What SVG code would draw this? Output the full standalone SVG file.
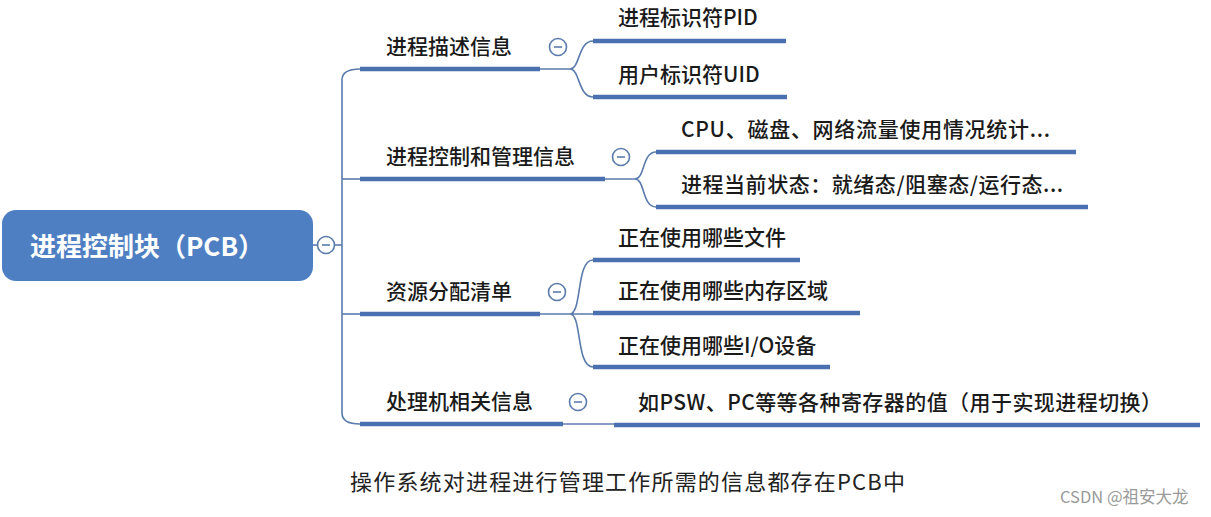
<svg xmlns="http://www.w3.org/2000/svg" width="1211" height="517" viewBox="0 0 1211 517">
<style>
.t{font-family:"Noto Sans CJK SC","Noto Sans",sans-serif;font-size:21px;fill:#1a1a1a;font-weight:500}
.bar{stroke:#4a70b0;stroke-width:4.5;fill:none}
.ln{stroke:#5b7bac;stroke-width:1.6;fill:none}
.col{fill:#fff;stroke:#5b7bac;stroke-width:1.6}
.mi{stroke:#5b7bac;stroke-width:1.6}
</style>
<rect width="1211" height="517" fill="#fff"/>
<g id="connectors">
<path class="ln" d="M313 245 H342"/>
<path class="ln" d="M360 69 Q342 69 342 80 V413 Q342 424 360 424"/>
<path class="ln" d="M342 179 Q342 179 360 179"/>
<path class="ln" d="M342 314 Q342 314 360 314"/>
<path class="ln" d="M540 69 H570 C580 69 578 41 593 41 M570 69 C580 69 578 97 593 97"/>
<path class="ln" d="M605 179 H635 C645 179 642 152 656 152 M635 179 C645 179 642 207 656 207"/>
<path class="ln" d="M540 314 H570 C582 314 576 260 593 260 M570 314 H593 M570 314 C582 314 576 367 593 367"/>
<path class="ln" d="M563 424 H614"/>
</g>
<g id="root">
<rect x="2" y="210" width="311" height="71" rx="14" fill="#4f7fc3"/>
<text x="30" y="256" font-family="Noto Sans CJK SC,sans-serif" font-size="26" font-weight="bold" fill="#fff">进程控制块（PCB）</text>
<circle class="col" cx="326" cy="245" r="8.5"/><path class="mi" d="M322 245 H330"/>
</g>
<g id="n1">
<path class="bar" d="M360 69 H540"/>
<text class="t" x="386" y="54">进程描述信息</text>
<circle class="col" cx="558" cy="47" r="8.5"/><path class="mi" d="M554 47 H562"/>
</g>
<g id="n1a"><path class="bar" d="M593 41 H786"/><text class="t" x="618" y="25">进程标识符PID</text></g>
<g id="n1b"><path class="bar" d="M593 97 H787"/><text class="t" x="618" y="82">用户标识符UID</text></g>
<g id="n2">
<path class="bar" d="M360 179 H605"/>
<text class="t" x="386" y="164">进程控制和管理信息</text>
<circle class="col" cx="621" cy="157" r="8.5"/><path class="mi" d="M617 157 H625"/>
</g>
<g id="n2a"><path class="bar" d="M656 152 H1076"/><text class="t" x="681" y="137" textLength="369">CPU、磁盘、网络流量使用情况统计...</text></g>
<g id="n2b"><path class="bar" d="M656 207 H1088"/><text class="t" x="681" y="192" textLength="382">进程当前状态：就绪态/阻塞态/运行态...</text></g>
<g id="n3">
<path class="bar" d="M360 314 H540"/>
<text class="t" x="386" y="299">资源分配清单</text>
<circle class="col" cx="557" cy="292" r="8.5"/><path class="mi" d="M553 292 H561"/>
</g>
<g id="n3a"><path class="bar" d="M593 260 H800"/><text class="t" x="618" y="245">正在使用哪些文件</text></g>
<g id="n3b"><path class="bar" d="M593 313 H860"/><text class="t" x="618" y="298">正在使用哪些内存区域</text></g>
<g id="n3c"><path class="bar" d="M593 367 H830"/><text class="t" x="618" y="353">正在使用哪些I/O设备</text></g>
<g id="n4">
<path class="bar" d="M360 424 H563"/>
<text class="t" x="386" y="409">处理机相关信息</text>
<circle class="col" cx="578" cy="402" r="8.5"/><path class="mi" d="M574 402 H582"/>
</g>
<g id="n4a"><path class="bar" d="M614 425 H1200"/><text class="t" x="638" y="410" textLength="524">如PSW、PC等等各种寄存器的值（用于实现进程切换）</text></g>
<text x="350" y="490" font-family="Noto Sans CJK SC,sans-serif" font-size="22" fill="#222" textLength="555">操作系统对进程进行管理工作所需的信息都存在PCB中</text>
<text x="1060" y="503" font-family="Noto Sans CJK SC,sans-serif" font-size="16.5" fill="#999">CSDN @祖安大龙</text>
</svg>
